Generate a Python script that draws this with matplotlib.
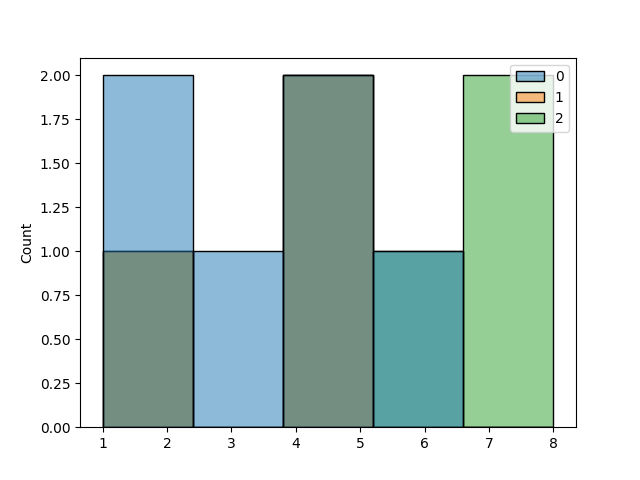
import numpy as np
import pandas as pd
import matplotlib
matplotlib.use("Agg")
import matplotlib.pyplot as plt
import seaborn as sns

col0 = [1, 2, 3, 4, 5, 6]
col1 = [1, 4, 5, np.nan, np.nan, np.nan]
col2 = [2, 4, 5, 6, 7, 8]
df = pd.DataFrame({0: col0, 1: col1, 2: col2})

fig, ax = plt.subplots(figsize=(6.4, 4.8), dpi=100)
sns.histplot(data=df, bins=5, ax=ax)
fig.savefig("out.png")
